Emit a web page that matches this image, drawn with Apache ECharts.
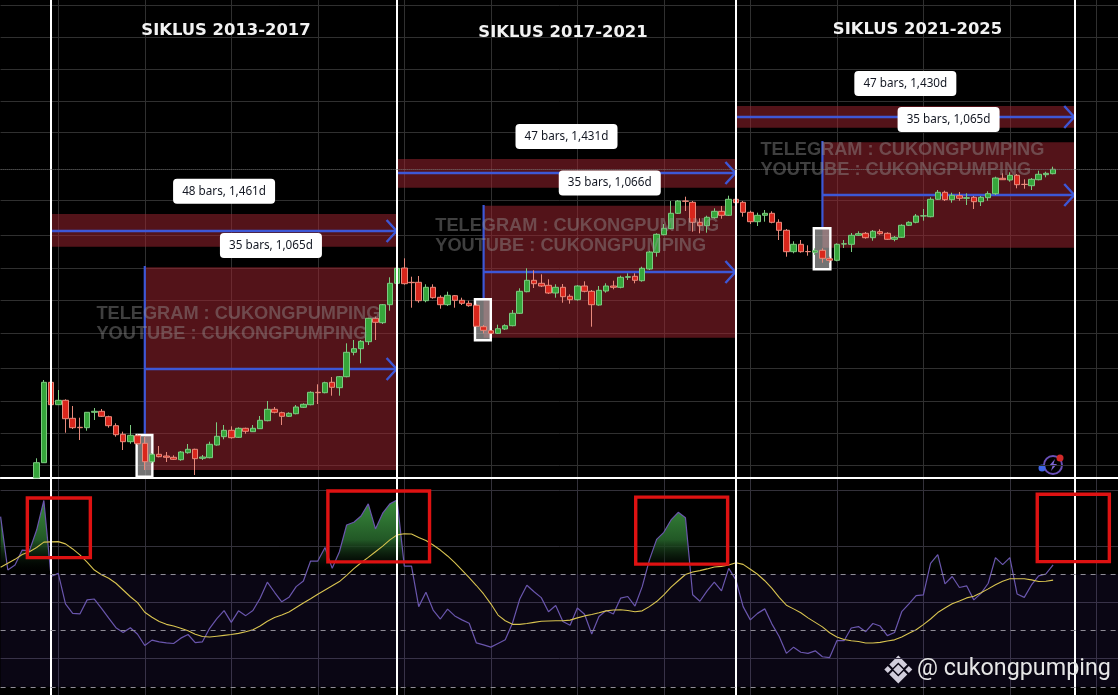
<!DOCTYPE html>
<html><head><meta charset="utf-8">
<style>html,body{margin:0;padding:0;background:#000}#c{width:1118px;height:695px}</style>
<script src="https://cdn.jsdelivr.net/npm/echarts@6/dist/echarts.min.js"></script>
</head><body><div id="c"></div>
<script>
// Bars are numbered from the left edge of the picture; the price pane has no labels, so values are log-scale levels.
const candleStart = 5;
const opens = [0,15.3,95.7,73.3,77.7,59.7,50.7,50.3,65.7,66.7,
61.3,52.3,43.7,36.3,42.3,34.7,16.3,23.7,22,20.7,
18.3,25.3,28.7,19.7,20.3,33,41.3,47.7,40.7,49.7,
46.3,49.3,57.3,68.7,65.3,61.7,64.3,70.7,73.3,85.7,
85.3,95.7,90.3,101.3,125.7,129.3,136.3,159.7,155.3,173.3,
194.7,210,195.7,195.7,177.3,190.7,180.7,173.3,182.3,177.7,
174.7,172.7,151.3,147.3,144.7,149,152.3,164.7,186.3,197.7,
194.7,192.7,185,190.7,181.7,178.3,192,186.7,173,187,
192,190.7,200.7,201.7,197.3,209,225.7,243.3,249.3,264.7,
277,275.7,255.7,252.3,260.3,266.7,262.7,278.7,275.7,265.7,
256.3,262.7,264.7,255.7,247.7,226.3,233.7,226.5,225.7,227.7,
219.3,217.7,234,233.7,242.7,244.7,240.3,246.3,244.7,238.7,
240.7,252.7,255.7,262,261.3,278.7,285.7,278.3,282.3,279.7,
280.7,276.3,280.3,284.3,299.7,298,302.7,293.7,292.3,298.3,
303.3,304.3];
const closes = [15.3,95.7,73.3,77.7,59.3,50.3,50.3,65.7,66.7,61.7,
52.3,43.3,36.3,42.7,34.3,16.3,23.7,21.3,20.7,18.7,
26,28.7,19.3,21,33.7,41.7,47.7,40.3,49.7,46.7,
49.7,57.7,68.7,65.7,61.7,64.7,71,73.7,85.7,85.3,
95.3,90.7,101.3,125.7,129.3,136.7,159.7,155.7,173.3,194.7,
209.7,194.3,195.3,177.3,190.7,180.3,173.3,182.7,177.7,174.7,
172.3,151.7,147.7,144.7,149.3,152.3,164.7,186.7,197.7,194.3,
192,185,190.7,181.3,178.3,192,186.7,173.3,187.7,192,
190.7,200.7,201.3,197.7,209.7,226,243.7,249.7,264.7,277,
276.7,255.7,252.3,260.7,266.7,262.7,278.7,275.3,265.7,256.3,
262.7,264.7,255.7,247.7,226.3,233.7,226.3,226.3,227.3,219.7,
217.7,233.7,234.2,242.7,244.3,240.3,246.7,244.3,238.7,240.7,
252.7,255.7,262,262.2,278.7,285.7,278.3,282.7,279.7,280.3,
276.3,280.7,284.3,300,298.3,302.7,293.3,293.5,298.7,303.7,
304.7,308.7];
const lows = [0,15.3,51.3,73.3,45.3,49,38,47.3,58,61,
50.3,41.3,28,34.3,33,8,14.7,20.7,16,18,
17.3,24.3,3,18,19.7,32.3,38.7,39.3,40,44.3,
46,49,56.7,64.7,53,61,63.7,70,72.7,74,
84.7,82.3,82.3,100.7,122.7,114.7,133,138,154,167.3,
194.3,193.3,170.3,175.3,175.7,179.3,169.3,172,170.3,173,
171.3,151,144.7,144,144,148,151.7,164,185.7,190,
191,184,180.3,175.3,174.3,177.3,185.7,151.3,172.3,185.3,
188.7,189.7,198,194.7,196.3,208,221.3,242.7,248.7,264,
267,246.3,244.7,245.3,259.3,259.3,262,273,261.3,254,
252,256.3,254.7,238,221.3,224.7,225.3,222.3,223,215.3,
215.3,216.7,230,226,242,239.3,237.3,243.3,238,236.7,
240,252,254.7,257.3,260.7,278,277,275.3,277.3,273,
269,272,277.3,283,298,296.3,289.7,289.3,288,297.7,
300.7,303.7];
const highs = [19.7,98,96.3,88,78.7,72,60.3,65.7,70,69,
62.3,54.7,46.3,53,43.7,41.3,24.7,32,26,22.7,
27,34,29.3,23,36.3,55.7,53,51.7,50.7,50.3,
53,62,77,71,66.3,65.7,73,74.7,86.7,93.7,
96.3,101,102,134.7,138,138,160.3,161.3,174,200.7,
210.3,219.7,201.3,202,193.7,193.7,182.7,186.3,183,180.3,
177.3,174,153,148,153.3,153.7,168,189.7,209.7,207.7,
203.7,198.7,193.7,194,183.7,193,196.7,188,192,194.7,
197.3,202.3,204.7,204.7,211.3,227,244.7,254,277,278,
281.3,277,259.7,262.3,269.7,272,282.3,284,277,267.3,
265.3,268,266.7,258.7,249,236.7,238,232.7,229.7,229.7,
221.3,234.7,238,245,246.7,246,248,248.7,245.7,242,
253.7,256.7,264,269,280.7,288,287.3,285.3,286,284.7,
282,282,286.7,301.3,304.7,305.7,304,298.7,300,307.3,
306.3,311.3];
const rsi = [90.5,71.5,73.3,78.6,78.4,85.7,96.2,69.2,70.3,59.5,56.1,55.9,60.9,61.2,57.9,54.4,51,49.3,51,48.7,
44.7,46.6,46,45.6,45.4,47.3,48.6,45.7,46,50.8,54.2,57.1,52.9,57,55.3,57.1,61.5,67.2,63.6,60.2,
61.8,65.6,67.6,74.7,74.7,79.5,72.1,78,87.5,88.5,90.7,95,86.1,91.7,95,96.4,
72.9,72.9,58.5,63.6,57.3,54.1,57.6,55.2,53.8,52.6,45.6,44.9,44.1,45.4,46.7,52.6,61.1,66.1,63.8,61.7,
56.7,58.9,53.2,51.9,58,55.8,48.8,55,57.1,55.9,61.5,62.1,58.7,65.6,75.1,82.4,84.9,89.3,92,90.1,
62.7,60.4,64.1,67.2,64.1,72.1,68,58.5,
53.8,56.1,57.7,52.3,47.9,41.9,44.1,42.3,41.9,42.8,40.7,40.4,46.4,46.4,50.9,51.4,49.6,52.5,51.6,48.2,
49.3,56.7,59.5,62.4,62.7,73.9,77,66.6,69.2,65.3,65.9,60.9,63.2,66.8,75.9,73.4,75.9,63,61.8,66.2,
69.4,70.1,73.3];
const rsiAverage = [72.5,73.9,75.3,77,78,79.5,81.4,81.5,81.6,80.8,79,76.9,74.3,71.5,69.8,68.6,66.8,64.4,62,59.9,
56.5,54.7,53.2,52.2,51.6,50.8,49.9,48.7,47.9,47.7,48,48.3,48.6,49,49.6,50.3,51.6,53.3,54.6,55.5,
56.6,58.2,59.8,61.3,62.9,64.4,65.9,67.4,69.6,72,74.1,76,78,80,82.2,84,
84.4,84.3,83.1,82,80.4,78.6,76.5,74.1,71.5,68.8,66,63,59.5,55.5,53.5,52.2,52.2,52.5,52.9,53.3,
53.4,53.5,53.5,53.7,54.5,55.2,55.7,56.3,57,57.3,57.4,57.1,56.7,57,58.5,60.3,62.7,65.4,67.7,69.9,
70.8,71.3,71.9,72.6,72.8,73.3,74.1,73.5,
71.8,70,67.7,65,61.8,59,57.7,56.3,54.5,52.9,51.3,49.2,47.7,46.8,46.4,46.1,45.6,45.6,45.8,46.3,
46.7,47.7,49,50.3,52.1,54.1,56.4,58,59.5,60.5,61.6,62.2,63.4,64.8,66.3,67.5,68.4,68.4,68.4,68,
67.4,67.5,67.9];

const cycleBars = [7, 55, 102, 149];
const gridBars = [8,20,32,44,56,68,80,92,104,116,128,140,152];
const priceGridLevels = [473,441,408.7,376.7,345.7,277.7,242.7,210,178,145,110,77,45,13];
const lastLevel = 309;
const rsiGrid = [100,80,60,40];
const rsiDashed = [70,50,30];

const titles = ['SIKLUS 2013-2017','SIKLUS 2017-2021','SIKLUS 2021-2025'];
const titleCentres = [226,563,917.5];
const titleTops = [23,25,22];

// [bar from, bar to, level top, level bottom]
const zones = [[7,55,264,231.3],[20,55,210.7,8],[55,102,319,290.3],[67,102,272.3,140.3],[102,149,372,350.3],[114,149,335.7,230.3]];
// [bar from, bar to, level]
const arrows = [[7,55,247],[20,55,109],[55,102,305],[67,102,206],[102,149,361],[114,149,283]];
// [bar, level top, level bottom]
const startLines = [[20,212,43],[67,273,178],[114,337,250]];
const markerBoxes = [[18.87,21.05,43,1.3],[65.8,68,178.7,137.7],[112.8,115.1,249.7,208.7]];
const rsiBoxes = [[3.71,12.45,97.1,75.9],[45.4,59.5,99.6,74.4],[88.1,100.85,97.4,73.6],[143.8,153.8,98.4,74.5]];
const spanTexts = ['48 bars, 1,461d','35 bars, 1,065d','47 bars, 1,431d','35 bars, 1,066d','47 bars, 1,430d','35 bars, 1,065d'];
const spanPositions = [[31,286.7],[37.5,232.5],[78.5,341.5],[84.5,295],[125.5,394.5],[131.5,358.5]];
const watermarkTexts = ['TELEGRAM : CUKONGPUMPING','YOUTUBE : CUKONGPUMPING','TELEGRAM : CUKONGPUMPING','YOUTUBE : CUKONGPUMPING','TELEGRAM : CUKONGPUMPING','YOUTUBE : CUKONGPUMPING'];
const watermarkPositions = [[13.3,164.5],[13.3,144.5],[60.3,252.5],[60.3,232.5],[105.4,328.5],[105.4,308.5]];
const handle = '@ cukongpumping';

const barPx = 7.21, leftPx = 0.6, lastBar = 155;
const BLUE = '#3d57d6';
const chart = echarts.init(document.getElementById('c'), null, {renderer:'canvas'});

const candleData = opens.map((o,i)=>[i+candleStart,o,closes[i],lows[i],highs[i]]);
const whiteLines = cycleBars.map(b=>({xAxis:b}));

function rectSeries(data, z, style, ax){
  return {type:'custom', xAxisIndex:ax||0, yAxisIndex:ax||0, z, silent:true, data,
    encode:{x:[0,1],y:[2,3]},
    renderItem(p,api){
      const a=api.coord([api.value(0),api.value(2)]), b=api.coord([api.value(1),api.value(3)]);
      return {type:'rect',shape:{x:a[0],y:a[1],width:b[0]-a[0],height:b[1]-a[1]},style};
    }};
}

const option = {
  backgroundColor:'#000', animation:false,
  title: titles.map((t,i)=>({text:t,left:titleCentres[i],top:titleTops[i],textAlign:'center',padding:0,
    textStyle:{color:'#f2f2f2',fontFamily:'DejaVu Sans',fontWeight:'bold',fontSize:16.4}})),
  grid:[
    {left:leftPx,top:0,width:barPx*lastBar,height:478},
    {left:leftPx,top:478,width:barPx*lastBar,height:217}
  ],
  xAxis:[0,1].map(i=>({type:'value',gridIndex:i,min:0,max:lastBar,position:i?'top':'bottom',
    axisLabel:{show:false},
    axisTick:{show:false,customValues:gridBars},
    axisLine:i?{show:true,onZero:false,lineStyle:{color:'#fff',width:2}}:{show:false},
    splitLine:{show:true,lineStyle:{color:i?'#33313a':'#303030',width:1}}})),
  yAxis:[
    {type:'value',gridIndex:0,min:0,max:478,axisLabel:{show:false},axisLine:{show:false},
     axisTick:{show:false,customValues:priceGridLevels},splitLine:{show:true,lineStyle:{color:'#303030',width:1}}},
    {type:'value',gridIndex:1,min:27.1,max:104.2,axisLabel:{show:false},axisLine:{show:false},
     axisTick:{show:false,customValues:rsiGrid},splitLine:{show:true,lineStyle:{color:'#33313a',width:1}}}
  ],
  series:[
    rectSeries(zones,1,{fill:'rgba(160,36,48,0.52)'}),
    {type:'custom',z:2,silent:true,data:arrows,encode:{x:[0,1],y:2},
     renderItem(p,api){
       const a=api.coord([api.value(0),api.value(2)]), b=api.coord([api.value(1),api.value(2)]);
       const tip=b[0]-0.5, s={stroke:BLUE,lineWidth:2.4,fill:null};
       return {type:'group',children:[
         {type:'line',shape:{x1:a[0],y1:a[1],x2:tip,y2:b[1]},style:s},
         {type:'polyline',shape:{points:[[tip-10,b[1]-11],[tip,b[1]],[tip-10,b[1]+11]]},style:s}
       ]};
     }},
    {type:'custom',z:2,silent:true,data:startLines,encode:{x:0,y:[1,2]},
     renderItem(p,api){
       const a=api.coord([api.value(0),api.value(1)]), b=api.coord([api.value(0),api.value(2)]);
       return {type:'line',shape:{x1:a[0],y1:a[1],x2:b[0],y2:b[1]},style:{stroke:BLUE,lineWidth:2.2}};
     }},
    rectSeries(markerBoxes,3,{fill:'rgba(185,185,185,0.62)',stroke:'#fff',lineWidth:2.4}),
    {type:'candlestick',name:'Price',z:4,silent:true,xAxisIndex:0,yAxisIndex:0,barWidth:6,data:candleData,
     encode:{x:0,y:[1,2,3,4]},
     itemStyle:{color:'#36a63b',color0:'#d9261c',borderColor:'#7ccb80',borderColor0:'#e98a7c',borderWidth:1},
     markLine:{silent:true,symbol:'none',label:{show:false},z:6,animation:false,
       data:[...whiteLines.map(d=>({...d,lineStyle:{color:'#fff',width:2,type:'solid'}})),
             {yAxis:lastLevel,lineStyle:{color:'#7a7a7a',width:1,type:'dotted'}}]}},
    {type:'custom',z:5,silent:true,data:watermarkPositions,encode:{x:0,y:1},
     renderItem(p,api){
       const c=api.coord([api.value(0),api.value(1)]);
       return {type:'text',x:c[0],y:c[1],style:{text:watermarkTexts[p.dataIndex],fill:'rgba(150,150,150,0.42)',
         font:'bold 18.2px "Liberation Sans"',textAlign:'left',textVerticalAlign:'middle'}};
     }},
    {type:'custom',z:7,silent:true,data:spanPositions,encode:{x:0,y:1},
     renderItem(p,api){
       const c=api.coord([api.value(0),api.value(1)]);
       return {type:'group',children:[
         {type:'rect',shape:{x:c[0]-51,y:c[1]-12.5,width:102,height:25,r:4},style:{fill:'#fff'}},
         {type:'text',x:c[0],y:c[1],style:{text:spanTexts[p.dataIndex],fill:'#131722',font:'11.7px "Noto Sans"',textAlign:'center',textVerticalAlign:'middle'}}
       ]};
     }},
    {type:'line',name:'RSI',z:3,silent:true,xAxisIndex:1,yAxisIndex:1,symbol:'none',data:rsi.map((v,i)=>[i,v]),
     lineStyle:{color:'#6a56ad',width:1.2},
     areaStyle:{origin:70,color:{type:'linear',global:true,x:0,y:498,x2:0,y2:574,
       colorStops:[{offset:0,color:'#3a8f3e'},{offset:0.55,color:'#225826'},{offset:1,color:'rgba(0,0,0,0)'}]},opacity:1},
     markArea:{silent:true,z:1,itemStyle:{color:'rgba(110,70,220,0.09)'},data:[[{yAxis:70},{yAxis:30}]]},
     markLine:{silent:true,symbol:'none',label:{show:false},z:6,animation:false,
       data:[...whiteLines.map(d=>({...d,lineStyle:{color:'#fff',width:2,type:'solid'}})),
             ...rsiDashed.map(v=>({yAxis:v,lineStyle:{color:'#8f8c96',width:1,type:[5,5]}}))]}},
    {type:'line',name:'RSI average',z:4,silent:true,xAxisIndex:1,yAxisIndex:1,symbol:'none',data:rsiAverage.map((v,i)=>[i,v]),
     lineStyle:{color:'#d8c350',width:1.1}},
    rectSeries(rsiBoxes,8,{fill:null,stroke:'#de1212',lineWidth:3.4},1)
  ],
  graphic:[
    {type:'text',left:917,top:657.5,z:20,style:{text:handle,fill:'#e6e6e6',font:'23.3px Roboto'}},
    {type:'group',x:898.3,y:669.5,z:20,children:[
      {type:'polygon',shape:{points:[[0,-5],[5,0],[0,5],[-5,0]]},style:{fill:'#dcdcdc'}},
      {type:'polygon',shape:{points:[[-10.5,-3.5],[-7,0],[-10.5,3.5],[-14,0]]},style:{fill:'#dcdcdc'}},
      {type:'polygon',shape:{points:[[10.5,-3.5],[14,0],[10.5,3.5],[7,0]]},style:{fill:'#dcdcdc'}},
      {type:'polygon',shape:{points:[[0,-14],[9,-5],[5.5,-1.5],[0,-7],[-5.5,-1.5],[-9,-5]]},style:{fill:'#dcdcdc'}},
      {type:'polygon',shape:{points:[[0,14],[9,5],[5.5,1.5],[0,7],[-5.5,1.5],[-9,5]]},style:{fill:'#dcdcdc'}}
    ]},
    {type:'group',x:1053,y:465,z:20,children:[
      {type:'circle',shape:{cx:0,cy:0,r:9},style:{fill:'rgba(0,0,0,0)',stroke:'#6a50b8',lineWidth:2}},
      {type:'polygon',shape:{points:[[2,-6],[-4,1],[-0.5,1],[-2,6],[4,-1],[0.5,-1]]},style:{fill:'#7d64d2'}},
      {type:'circle',shape:{cx:-11,cy:3,r:3.5},style:{fill:'#3f66e8'}},
      {type:'circle',shape:{cx:7,cy:-7,r:3.5},style:{fill:'#d22a2a'}}
    ]}
  ]
};
chart.setOption(option);
</script></body></html>
